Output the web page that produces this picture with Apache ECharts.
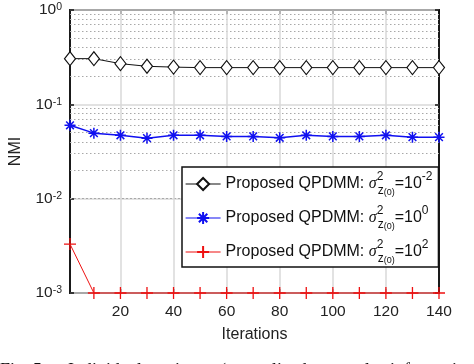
<!DOCTYPE html>
<html>
<head>
<meta charset="utf-8">
<script src="https://cdn.jsdelivr.net/npm/echarts@6/dist/echarts.min.js"></script>
<style>html,body{margin:0;padding:0;background:#fff;}#c{width:474px;height:364px;}</style>
</head>
<body>
<div id="c"></div>
<script>
const iterations = [1, 10, 20, 30, 40, 50, 60, 70, 80, 90, 100, 110, 120, 130, 140];
const nmiSigmaNeg2 = [0.305, 0.305, 0.27, 0.253, 0.248, 0.245, 0.245, 0.245, 0.245, 0.245, 0.245, 0.245, 0.245, 0.245, 0.245];
const nmiSigma0 = [0.060, 0.0495, 0.047, 0.0438, 0.047, 0.047, 0.0457, 0.0457, 0.0442, 0.047, 0.0457, 0.0457, 0.047, 0.0449, 0.0449];
const nmiSigma2 = [0.0033, 0.001, 0.001, 0.001, 0.001, 0.001, 0.001, 0.001, 0.001, 0.001, 0.001, 0.001, 0.001, 0.001, 0.001];
const xTickLabels = [20, 40, 60, 80, 100, 120, 140];
const yDecades = [0.001, 0.01, 0.1, 1];
const minorMultipliers = [2, 3, 4, 5, 6, 7, 8, 9];
const seriesNames = ['s1', 's2', 's3'];
const legendExponents = ['-2', '0', '2'];

const pairs = arr => iterations.map((x, i) => [x, arr[i]]);
const minorLines = [];
yDecades.slice(0, 3).forEach(d => minorMultipliers.forEach(m => minorLines.push({ yAxis: d * m })));
const vLines = xTickLabels.slice(0, -1).map(v => ({ xAxis: v }));

const FONT = 'Liberation Sans';
const asterisk = 'path://M5,0L5,10M0,5L10,5M1.5,1.5L8.5,8.5M8.5,1.5L1.5,8.5';
const plus = 'path://M5,0L5,10M0,5L10,5';
const capFont = '18px "Liberation Serif"';
const capTop = 362;

const chart = echarts.init(document.getElementById('c'), null, { renderer: 'canvas' });
chart.setOption({
  animation: false,
  backgroundColor: '#fff',
  grid: { left: 67, right: 35, top: 10, bottom: 71, show: true, borderColor: '#1a1a1a', borderWidth: 2, backgroundColor: 'transparent' },
  xAxis: [{
    type: 'value', min: 1, max: 140,
    name: 'Iterations', nameLocation: 'middle', nameGap: 34,
    nameTextStyle: { fontFamily: FONT, fontSize: 16, color: '#222' },
    axisLine: { show: false },
    axisTick: { show: true, inside: true, length: 4, customValues: xTickLabels, lineStyle: { color: '#111', width: 1.5 } },
    axisLabel: { customValues: xTickLabels, margin: 11, fontFamily: FONT, fontSize: 15.5, color: '#222' },
    splitLine: { show: false }
  }, {
    type: 'value', min: 1, max: 140, position: 'top',
    axisLine: { show: false },
    axisTick: { show: true, inside: true, length: 4, customValues: xTickLabels, lineStyle: { color: '#111', width: 1.5 } },
    axisLabel: { show: false },
    splitLine: { show: false }
  }],
  yAxis: [{
    type: 'log', logBase: 10, min: 0.001, max: 1,
    name: 'NMI', nameLocation: 'middle', nameGap: 46,
    nameTextStyle: { fontFamily: FONT, fontSize: 16, color: '#222' },
    axisLine: { show: false },
    axisTick: { show: true, inside: true, length: 4, lineStyle: { color: '#111', width: 1.5 } },
    axisLabel: {
      margin: 8, color: '#222',
      formatter: v => '{b|10}{s|' + Math.round(Math.log10(v)) + '}',
      rich: {
        b: { fontFamily: FONT, fontSize: 15.5, lineHeight: 16, verticalAlign: 'bottom', color: '#222' },
        s: { fontFamily: FONT, fontSize: 10.5, lineHeight: 10, verticalAlign: 'top', color: '#222' }
      }
    },
    splitLine: { show: true, lineStyle: { color: '#d8d8d8', width: 1.5 } }
  }, {
    type: 'log', logBase: 10, min: 0.001, max: 1, position: 'right',
    axisLine: { show: false },
    axisTick: { show: true, inside: true, length: 4, lineStyle: { color: '#111', width: 1.5 } },
    axisLabel: { show: false },
    splitLine: { show: false }
  }],
  legend: {
    orient: 'vertical', left: 182, top: 167,
    padding: [4, 6, 2, 3], itemGap: 8,
    itemWidth: 35, itemHeight: 15,
    backgroundColor: '#fff', borderColor: '#111', borderWidth: 1.5, borderRadius: 0,
    lineStyle: { width: 1.2 },
    data: seriesNames,
    formatter: name => {
      const e = legendExponents[seriesNames.indexOf(name)];
      return '{t|Proposed QPDMM: }{sg|σ}{sp|2}{sb|z}{sb2|(0)}{t|=10}{ex|' + e + '}';
    },
    textStyle: {
      color: '#111',
      rich: {
        t: { fontFamily: FONT, fontSize: 16, lineHeight: 26, color: '#111' },
        sg: { fontFamily: 'Liberation Serif', fontStyle: 'italic', fontSize: 16, lineHeight: 26, color: '#111' },
        sp: { fontFamily: FONT, fontSize: 12, lineHeight: 10, verticalAlign: 'top', width: 1, color: '#111' },
        sb: { fontFamily: FONT, fontSize: 12, lineHeight: 9, verticalAlign: 'bottom', color: '#111' },
        sb2: { fontFamily: FONT, fontSize: 9, lineHeight: 22, verticalAlign: 'bottom', color: '#111' },
        ex: { fontFamily: FONT, fontSize: 12, lineHeight: 10, verticalAlign: 'top', color: '#111' }
      }
    }
  },
  graphic: [
    { type: 'text', left: 0, top: capTop, style: { text: 'Fig.', font: capFont, fill: '#111' } },
    { type: 'text', left: 33, top: capTop, style: { text: '5.', font: capFont, fill: '#111' } },
    { type: 'text', left: 68, top: capTop, style: { text: 'Individual', font: capFont, fill: '#111' } },
    { type: 'text', left: 160, top: capTop, style: { text: 'privacy', font: capFont, fill: '#111' } },
    { type: 'text', left: 220, top: capTop, style: { text: '(normalized', font: capFont, fill: '#111' } },
    { type: 'text', left: 320, top: capTop, style: { text: 'mutual', font: capFont, fill: '#111' } },
    { type: 'text', left: 390, top: capTop, style: { text: 'information', font: capFont, fill: '#111' } }
  ],
  series: [{
    name: 'grid', type: 'line', data: [], silent: true, z: 1,
    markLine: {
      silent: true, symbol: 'none', z: 1, animation: false,
      label: { show: false },
      emphasis: { disabled: true },
      data: minorLines,
      lineStyle: { color: '#a8a8a8', width: 1, type: [1.5, 2.5] }
    }
  }, {
    name: 'grid2', type: 'line', data: [], silent: true, z: 1,
    markLine: {
      silent: true, symbol: 'none', z: 1, animation: false,
      label: { show: false },
      emphasis: { disabled: true },
      data: vLines,
      lineStyle: { color: '#d8d8d8', width: 1.5, type: 'solid' }
    }
  }, {
    name: 's1', type: 'line', data: pairs(nmiSigmaNeg2), z: 3, clip: false,
    symbol: 'diamond', symbolSize: [11, 14],
    lineStyle: { color: '#111', width: 1 },
    itemStyle: { color: '#fff', borderColor: '#111', borderWidth: 1.2 }
  }, {
    name: 's2', type: 'line', data: pairs(nmiSigma0), z: 3, clip: false,
    symbol: asterisk, symbolSize: 11,
    lineStyle: { color: '#1010f0', width: 1.5 },
    itemStyle: { color: '#1010f0', borderColor: '#1010f0', borderWidth: 1.5 }
  }, {
    name: 's3', type: 'line', data: pairs(nmiSigma2), z: 3, clip: false,
    symbol: plus, symbolSize: 12,
    lineStyle: { color: '#ee1111', width: 1 },
    itemStyle: { color: '#ee1111', borderColor: '#ee1111', borderWidth: 1.3 }
  }]
});
</script>
</body>
</html>
